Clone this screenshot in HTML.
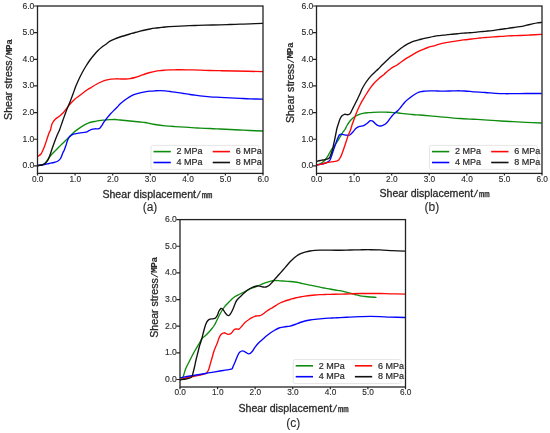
<!DOCTYPE html>
<html><head><meta charset="utf-8"><title>Shear stress vs shear displacement</title>
<style>
html,body{margin:0;padding:0;background:#fff;}
body{width:550px;height:433px;overflow:hidden;}
svg{display:block;}
.t{font-family:"Liberation Sans",Arial,sans-serif;}
.cjk{font-family:"WenQuanYi Zen Hei","Noto Sans CJK SC",sans-serif;}
.mono{font-family:"Liberation Mono",monospace;}
</style></head><body>
<svg width="550" height="433" viewBox="0 0 550 433">
<rect width="550" height="433" fill="#fff"/>
<g transform="translate(37.50,6.00)">
<g fill="none" stroke-width="1.35" stroke-linejoin="round" stroke-linecap="round">
<path d="M0.50,159.50 C1.17,159.42 3.33,159.38 4.50,159.00 C5.67,158.62 6.42,158.28 7.50,157.20 C8.58,156.12 9.83,154.03 11.00,152.50 C12.17,150.97 13.08,149.58 14.50,148.00 C15.92,146.42 17.83,144.67 19.50,143.00 C21.17,141.33 22.83,139.62 24.50,138.00 C26.17,136.38 28.17,134.60 29.50,133.30 C30.83,132.00 31.40,131.33 32.50,130.20 C33.60,129.07 34.88,127.60 36.10,126.50 C37.32,125.40 38.58,124.50 39.80,123.60 C41.02,122.70 42.20,121.88 43.40,121.10 C44.60,120.32 45.78,119.57 47.00,118.90 C48.22,118.23 49.48,117.58 50.70,117.10 C51.92,116.62 53.08,116.30 54.30,116.00 C55.52,115.70 56.78,115.52 58.00,115.30 C59.22,115.08 60.40,114.88 61.60,114.70 C62.80,114.52 63.98,114.35 65.20,114.20 C66.42,114.05 67.68,113.90 68.90,113.80 C70.12,113.70 71.07,113.65 72.50,113.60 C73.93,113.55 75.83,113.43 77.50,113.50 C79.17,113.57 80.83,113.83 82.50,114.00 C84.17,114.17 85.83,114.33 87.50,114.50 C89.17,114.67 90.83,114.83 92.50,115.00 C94.17,115.17 95.83,115.33 97.50,115.50 C99.17,115.67 100.83,115.83 102.50,116.00 C104.17,116.17 105.83,116.25 107.50,116.50 C109.17,116.75 110.83,117.17 112.50,117.50 C114.17,117.83 115.00,118.12 117.50,118.50 C120.00,118.88 124.17,119.45 127.50,119.80 C130.83,120.15 134.17,120.37 137.50,120.60 C140.83,120.83 144.17,121.00 147.50,121.20 C150.83,121.40 155.00,121.63 157.50,121.80 C160.00,121.97 160.00,122.08 162.50,122.20 C165.00,122.32 169.17,122.37 172.50,122.50 C175.83,122.63 179.17,122.83 182.50,123.00 C185.83,123.17 189.17,123.33 192.50,123.50 C195.83,123.67 199.17,123.83 202.50,124.00 C205.83,124.17 208.75,124.33 212.50,124.50 C216.25,124.67 222.92,124.92 225.00,125.00" stroke="#0e8c0e"/>
<path d="M0.50,159.50 C1.50,159.33 4.67,158.83 6.50,158.50 C8.33,158.17 9.83,157.83 11.50,157.50 C13.17,157.17 15.00,156.92 16.50,156.50 C18.00,156.08 19.42,155.67 20.50,155.00 C21.58,154.33 22.20,153.83 23.00,152.50 C23.80,151.17 24.67,148.42 25.30,147.00 C25.93,145.58 26.30,145.20 26.80,144.00 C27.30,142.80 27.77,141.37 28.30,139.80 C28.83,138.23 29.43,136.05 30.00,134.60 C30.57,133.15 31.03,132.02 31.70,131.10 C32.37,130.18 33.13,129.63 34.00,129.10 C34.87,128.57 35.93,128.18 36.90,127.90 C37.87,127.62 38.83,127.58 39.80,127.40 C40.77,127.22 41.25,127.00 42.70,126.80 C44.15,126.60 47.05,126.55 48.50,126.20 C49.95,125.85 50.43,125.18 51.40,124.70 C52.37,124.22 53.33,123.62 54.30,123.30 C55.27,122.98 56.23,122.87 57.20,122.80 C58.17,122.73 59.25,123.00 60.10,122.90 C60.95,122.80 61.57,122.80 62.30,122.20 C63.03,121.60 63.77,120.40 64.50,119.30 C65.23,118.20 65.88,116.78 66.70,115.60 C67.52,114.42 68.37,113.47 69.40,112.20 C70.43,110.93 71.73,109.30 72.90,108.00 C74.07,106.70 75.25,105.57 76.40,104.40 C77.55,103.23 78.78,102.05 79.80,101.00 C80.82,99.95 81.28,99.22 82.50,98.10 C83.72,96.98 85.57,95.47 87.10,94.30 C88.63,93.13 90.15,92.03 91.70,91.10 C93.25,90.17 94.60,89.40 96.40,88.70 C98.20,88.00 100.65,87.37 102.50,86.90 C104.35,86.43 105.83,86.18 107.50,85.90 C109.17,85.62 110.83,85.38 112.50,85.20 C114.17,85.02 115.83,84.90 117.50,84.80 C119.17,84.70 120.83,84.58 122.50,84.60 C124.17,84.62 125.83,84.75 127.50,84.90 C129.17,85.05 130.83,85.28 132.50,85.50 C134.17,85.72 135.83,85.97 137.50,86.20 C139.17,86.43 140.83,86.65 142.50,86.90 C144.17,87.15 145.83,87.43 147.50,87.70 C149.17,87.97 150.83,88.25 152.50,88.50 C154.17,88.75 155.83,88.97 157.50,89.20 C159.17,89.43 160.00,89.63 162.50,89.90 C165.00,90.17 169.17,90.57 172.50,90.80 C175.83,91.03 179.17,91.13 182.50,91.30 C185.83,91.47 189.17,91.63 192.50,91.80 C195.83,91.97 199.17,92.13 202.50,92.30 C205.83,92.47 208.75,92.65 212.50,92.80 C216.25,92.95 222.92,93.13 225.00,93.20" stroke="#0505ff"/>
<path d="M0.30,150.50 C0.83,150.08 2.63,149.08 3.50,148.00 C4.37,146.92 4.83,145.50 5.50,144.00 C6.17,142.50 6.83,140.83 7.50,139.00 C8.17,137.17 8.83,135.00 9.50,133.00 C10.17,131.00 10.92,128.50 11.50,127.00 C12.08,125.50 12.50,125.50 13.00,124.00 C13.50,122.50 13.75,119.75 14.50,118.00 C15.25,116.25 16.33,114.75 17.50,113.50 C18.67,112.25 20.17,111.58 21.50,110.50 C22.83,109.42 24.17,108.42 25.50,107.00 C26.83,105.58 28.17,103.67 29.50,102.00 C30.83,100.33 32.17,98.50 33.50,97.00 C34.83,95.50 36.17,94.17 37.50,93.00 C38.83,91.83 40.17,91.00 41.50,90.00 C42.83,89.00 44.17,88.00 45.50,87.00 C46.83,86.00 48.00,85.00 49.50,84.00 C51.00,83.00 53.00,81.92 54.50,81.00 C56.00,80.08 57.00,79.33 58.50,78.50 C60.00,77.67 61.83,76.72 63.50,76.00 C65.17,75.28 66.83,74.67 68.50,74.20 C70.17,73.73 71.83,73.43 73.50,73.20 C75.17,72.97 76.83,72.83 78.50,72.80 C80.17,72.77 81.83,72.97 83.50,73.00 C85.17,73.03 87.00,73.07 88.50,73.00 C90.00,72.93 91.00,72.85 92.50,72.60 C94.00,72.35 95.83,71.95 97.50,71.50 C99.17,71.05 100.83,70.48 102.50,69.90 C104.17,69.32 105.83,68.57 107.50,68.00 C109.17,67.43 110.83,66.95 112.50,66.50 C114.17,66.05 115.83,65.62 117.50,65.30 C119.17,64.98 120.83,64.78 122.50,64.60 C124.17,64.42 125.83,64.32 127.50,64.20 C129.17,64.08 130.83,63.97 132.50,63.90 C134.17,63.83 135.83,63.82 137.50,63.80 C139.17,63.77 140.00,63.73 142.50,63.75 C145.00,63.77 149.17,63.84 152.50,63.90 C155.83,63.96 159.17,64.00 162.50,64.10 C165.83,64.20 169.17,64.40 172.50,64.50 C175.83,64.60 178.33,64.62 182.50,64.70 C186.67,64.78 190.42,64.85 197.50,65.00 C204.58,65.15 220.42,65.50 225.00,65.60" stroke="#ff0808"/>
<path d="M0.00,159.60 C0.75,159.50 3.25,159.35 4.50,159.00 C5.75,158.65 6.50,158.33 7.50,157.50 C8.50,156.67 9.67,155.42 10.50,154.00 C11.33,152.58 11.83,150.83 12.50,149.00 C13.17,147.17 13.75,145.17 14.50,143.00 C15.25,140.83 16.17,138.25 17.00,136.00 C17.83,133.75 18.67,131.50 19.50,129.50 C20.33,127.50 21.00,126.58 22.00,124.00 C23.00,121.42 24.25,117.50 25.50,114.00 C26.75,110.50 28.33,106.00 29.50,103.00 C30.67,100.00 31.50,98.50 32.50,96.00 C33.50,93.50 34.50,90.70 35.50,88.00 C36.50,85.30 37.50,82.30 38.50,79.80 C39.50,77.30 40.50,75.13 41.50,73.00 C42.50,70.87 43.33,69.17 44.50,67.00 C45.67,64.83 47.17,62.17 48.50,60.00 C49.83,57.83 51.17,55.83 52.50,54.00 C53.83,52.17 55.17,50.58 56.50,49.00 C57.83,47.42 59.17,45.83 60.50,44.50 C61.83,43.17 63.25,42.00 64.50,41.00 C65.75,40.00 66.67,39.47 68.00,38.50 C69.33,37.53 70.92,36.15 72.50,35.20 C74.08,34.25 75.83,33.50 77.50,32.80 C79.17,32.10 80.83,31.55 82.50,31.00 C84.17,30.45 85.83,30.00 87.50,29.50 C89.17,29.00 90.83,28.50 92.50,28.00 C94.17,27.50 95.83,26.97 97.50,26.50 C99.17,26.03 100.83,25.62 102.50,25.20 C104.17,24.78 105.83,24.37 107.50,24.00 C109.17,23.63 110.83,23.30 112.50,23.00 C114.17,22.70 115.83,22.43 117.50,22.20 C119.17,21.97 120.83,21.80 122.50,21.60 C124.17,21.40 125.00,21.22 127.50,21.00 C130.00,20.78 134.17,20.50 137.50,20.30 C140.83,20.10 144.17,19.93 147.50,19.80 C150.83,19.67 154.17,19.60 157.50,19.50 C160.83,19.40 163.33,19.32 167.50,19.20 C171.67,19.08 178.33,18.92 182.50,18.80 C186.67,18.68 189.17,18.60 192.50,18.50 C195.83,18.40 199.17,18.32 202.50,18.20 C205.83,18.08 208.75,17.95 212.50,17.80 C216.25,17.65 222.92,17.38 225.00,17.30" stroke="#111"/>
</g>
<rect x="0" y="0" width="225.50" height="167.40" fill="none" stroke="#222" stroke-width="1.3"/>
<path d="M-3.6,159.90H0M-3.6,133.25H0M-3.6,106.60H0M-3.6,79.95H0M-3.6,53.30H0M-3.6,26.65H0M-3.6,0.00H0M0.00,167.40V169.60M37.58,167.40V169.60M75.16,167.40V169.60M112.74,167.40V169.60M150.32,167.40V169.60M187.90,167.40V169.60M225.48,167.40V169.60" stroke="#222" stroke-width="1.2" fill="none"/>
<g class="t" font-size="8.30" fill="#2a2a2a" stroke="#2a2a2a" stroke-width="0.12">
<text x="-3.1" y="162.40" text-anchor="end" font-size="8.6">0.0</text>
<text x="-3.1" y="135.75" text-anchor="end" font-size="8.6">1.0</text>
<text x="-3.1" y="109.10" text-anchor="end" font-size="8.6">2.0</text>
<text x="-3.1" y="82.45" text-anchor="end" font-size="8.6">3.0</text>
<text x="-3.1" y="55.80" text-anchor="end" font-size="8.6">4.0</text>
<text x="-3.1" y="29.15" text-anchor="end" font-size="8.6">5.0</text>
<text x="-3.1" y="2.50" text-anchor="end" font-size="8.6">6.0</text>
<text x="0.20" y="175.80" text-anchor="middle">0.0</text>
<text x="37.78" y="175.80" text-anchor="middle">1.0</text>
<text x="75.36" y="175.80" text-anchor="middle">2.0</text>
<text x="112.94" y="175.80" text-anchor="middle">3.0</text>
<text x="150.52" y="175.80" text-anchor="middle">4.0</text>
<text x="188.10" y="175.80" text-anchor="middle">5.0</text>
<text x="225.68" y="175.80" text-anchor="middle">6.0</text>
</g>
</g>
<text class="t" x="102.40" y="198.30" font-size="10.6" fill="#2a2a2a" stroke="#2a2a2a" stroke-width="0.3">Shear displacement<tspan class="mono" font-size="8.75">/</tspan><tspan class="cjk" font-size="11.6">㎜</tspan></text>
<text class="t" transform="translate(12.10,119.90) rotate(-90)" font-size="10.6" fill="#2a2a2a" stroke="#2a2a2a" stroke-width="0.3">Shear stress<tspan class="mono" font-size="9.4" font-weight="bold" letter-spacing="-0.4" stroke-width="0.05">/</tspan><tspan class="mono" font-size="9.4" font-weight="bold" letter-spacing="-0.4" stroke-width="0.1" dy="-0.6">MPa</tspan></text>
<text class="t" x="150.00" y="210.90" font-size="12" fill="#2a2a2a" text-anchor="middle" stroke="#2a2a2a" stroke-width="0.1">(a)</text>
<rect x="151.00" y="145.40" width="108" height="24" rx="1.8" fill="#fff" stroke="#e2e2e2" stroke-width="0.9"/>
<path d="M153.50,151.60h17.3" stroke="#0e8c0e" stroke-width="1.6"/>
<text class="t" x="176.50" y="154.40" font-size="9" fill="#2a2a2a" stroke="#2a2a2a" stroke-width="0.2">2 MPa</text>
<path d="M212.70,151.60h17.3" stroke="#ff0808" stroke-width="1.6"/>
<text class="t" x="235.70" y="154.40" font-size="9" fill="#2a2a2a" stroke="#2a2a2a" stroke-width="0.2">6 MPa</text>
<path d="M153.50,162.50h17.3" stroke="#0505ff" stroke-width="1.6"/>
<text class="t" x="176.50" y="164.90" font-size="9" fill="#2a2a2a" stroke="#2a2a2a" stroke-width="0.2">4 MPa</text>
<path d="M212.70,162.50h17.3" stroke="#111" stroke-width="1.6"/>
<text class="t" x="235.70" y="164.90" font-size="9" fill="#2a2a2a" stroke="#2a2a2a" stroke-width="0.2">8 MPa</text>
<g transform="translate(316.50,6.00)">
<g fill="none" stroke-width="1.35" stroke-linejoin="round" stroke-linecap="round">
<path d="M0.40,159.00 C0.67,158.90 1.27,158.68 2.00,158.40 C2.73,158.12 3.88,157.85 4.80,157.30 C5.72,156.75 6.68,155.92 7.50,155.10 C8.32,154.28 8.97,153.40 9.70,152.40 C10.43,151.40 11.18,150.28 11.90,149.10 C12.62,147.92 13.37,146.40 14.00,145.30 C14.63,144.20 15.12,143.30 15.70,142.50 C16.28,141.70 16.70,141.58 17.50,140.50 C18.30,139.42 19.50,137.58 20.50,136.00 C21.50,134.42 22.50,132.67 23.50,131.00 C24.50,129.33 25.67,127.25 26.50,126.00 C27.33,124.75 27.83,124.58 28.50,123.50 C29.17,122.42 29.67,120.92 30.50,119.50 C31.33,118.08 32.50,116.25 33.50,115.00 C34.50,113.75 35.50,112.83 36.50,112.00 C37.50,111.17 38.33,110.63 39.50,110.00 C40.67,109.37 42.17,108.67 43.50,108.20 C44.83,107.73 46.17,107.45 47.50,107.20 C48.83,106.95 50.05,106.85 51.50,106.70 C52.95,106.55 54.32,106.40 56.20,106.30 C58.08,106.20 60.58,106.12 62.80,106.10 C65.02,106.08 67.55,106.17 69.50,106.20 C71.45,106.23 72.83,106.22 74.50,106.30 C76.17,106.38 77.83,106.53 79.50,106.70 C81.17,106.87 82.83,107.12 84.50,107.30 C86.17,107.48 87.83,107.63 89.50,107.80 C91.17,107.97 92.83,108.13 94.50,108.30 C96.17,108.47 98.00,108.68 99.50,108.80 C101.00,108.92 101.17,108.83 103.50,109.00 C105.83,109.17 110.17,109.50 113.50,109.80 C116.83,110.10 120.17,110.48 123.50,110.80 C126.83,111.12 130.17,111.42 133.50,111.70 C136.83,111.98 140.17,112.27 143.50,112.50 C146.83,112.73 150.67,112.95 153.50,113.10 C156.33,113.25 157.55,113.23 160.50,113.40 C163.45,113.57 167.28,113.83 171.20,114.10 C175.12,114.37 179.75,114.73 184.00,115.00 C188.25,115.27 192.47,115.47 196.70,115.70 C200.93,115.93 204.73,116.18 209.40,116.40 C214.07,116.62 222.15,116.90 224.70,117.00" stroke="#0e8c0e"/>
<path d="M0.40,158.90 C0.95,158.82 2.25,158.72 3.70,158.40 C5.15,158.08 7.73,157.47 9.10,157.00 C10.47,156.53 11.17,156.10 11.90,155.60 C12.63,155.10 13.05,154.72 13.50,154.00 C13.95,153.28 14.23,152.30 14.60,151.30 C14.97,150.30 15.35,149.05 15.70,148.00 C16.05,146.95 16.33,146.08 16.70,145.00 C17.07,143.92 17.50,142.67 17.90,141.50 C18.30,140.33 18.67,139.25 19.10,138.00 C19.53,136.75 19.93,135.42 20.50,134.00 C21.07,132.58 21.83,130.47 22.50,129.50 C23.17,128.53 23.78,128.35 24.50,128.20 C25.22,128.05 25.88,128.43 26.80,128.60 C27.72,128.77 28.92,129.13 30.00,129.20 C31.08,129.27 32.20,129.58 33.30,129.00 C34.40,128.42 35.50,126.87 36.60,125.70 C37.70,124.53 38.82,122.88 39.90,122.00 C40.98,121.12 41.88,120.80 43.10,120.40 C44.32,120.00 45.97,120.08 47.20,119.60 C48.43,119.12 49.40,118.32 50.50,117.50 C51.60,116.68 52.85,115.10 53.80,114.70 C54.75,114.30 55.38,114.63 56.20,115.10 C57.02,115.57 57.88,116.78 58.70,117.50 C59.52,118.22 60.22,118.98 61.10,119.40 C61.98,119.82 63.02,120.07 64.00,120.00 C64.98,119.93 66.08,119.42 67.00,119.00 C67.92,118.58 68.58,118.33 69.50,117.50 C70.42,116.67 71.50,115.25 72.50,114.00 C73.50,112.75 74.50,111.17 75.50,110.00 C76.50,108.83 77.50,107.92 78.50,107.00 C79.50,106.08 80.50,105.50 81.50,104.50 C82.50,103.50 83.33,102.42 84.50,101.00 C85.67,99.58 87.17,97.42 88.50,96.00 C89.83,94.58 91.17,93.58 92.50,92.50 C93.83,91.42 95.17,90.42 96.50,89.50 C97.83,88.58 99.17,87.65 100.50,87.00 C101.83,86.35 103.17,85.90 104.50,85.60 C105.83,85.30 107.00,85.31 108.50,85.20 C110.00,85.09 111.83,84.99 113.50,84.95 C115.17,84.91 116.83,84.93 118.50,84.95 C120.17,84.97 121.83,85.03 123.50,85.05 C125.17,85.07 126.83,85.11 128.50,85.10 C130.17,85.09 131.83,85.04 133.50,85.00 C135.17,84.96 136.83,84.88 138.50,84.85 C140.17,84.82 141.83,84.77 143.50,84.80 C145.17,84.83 146.83,84.90 148.50,85.00 C150.17,85.10 151.83,85.25 153.50,85.40 C155.17,85.55 155.97,85.72 158.50,85.90 C161.03,86.08 165.30,86.25 168.70,86.50 C172.10,86.75 175.52,87.20 178.90,87.40 C182.28,87.60 185.62,87.67 189.00,87.70 C192.38,87.73 195.80,87.63 199.20,87.60 C202.60,87.57 205.15,87.52 209.40,87.50 C213.65,87.48 222.15,87.50 224.70,87.50" stroke="#0505ff"/>
<path d="M0.40,158.90 C0.95,158.82 2.25,158.72 3.70,158.40 C5.15,158.08 7.28,157.42 9.10,157.00 C10.92,156.58 12.78,156.22 14.60,155.90 C16.42,155.58 18.73,155.42 20.00,155.10 C21.27,154.78 21.55,154.63 22.20,154.00 C22.85,153.37 23.40,152.22 23.90,151.30 C24.40,150.38 24.60,150.05 25.20,148.50 C25.80,146.95 26.78,144.08 27.50,142.00 C28.22,139.92 28.83,138.00 29.50,136.00 C30.17,134.00 30.75,132.00 31.50,130.00 C32.25,128.00 33.33,125.83 34.00,124.00 C34.67,122.17 34.92,120.75 35.50,119.00 C36.08,117.25 36.83,115.33 37.50,113.50 C38.17,111.67 38.83,109.72 39.50,108.00 C40.17,106.28 40.83,104.70 41.50,103.20 C42.17,101.70 42.83,100.33 43.50,99.00 C44.17,97.67 44.83,96.40 45.50,95.20 C46.17,94.00 46.67,93.17 47.50,91.80 C48.33,90.43 49.50,88.57 50.50,87.00 C51.50,85.43 52.33,84.03 53.50,82.40 C54.67,80.77 56.00,78.87 57.50,77.20 C59.00,75.53 60.83,73.87 62.50,72.40 C64.17,70.93 65.83,69.80 67.50,68.40 C69.17,67.00 71.13,65.13 72.50,64.00 C73.87,62.87 74.40,62.40 75.70,61.60 C77.00,60.80 78.85,60.10 80.30,59.20 C81.75,58.30 82.95,57.25 84.40,56.20 C85.85,55.15 87.45,53.90 89.00,52.90 C90.55,51.90 92.28,51.03 93.70,50.20 C95.12,49.37 96.10,48.70 97.50,47.90 C98.90,47.10 100.57,46.17 102.10,45.40 C103.63,44.63 105.15,43.95 106.70,43.30 C108.25,42.65 109.60,42.08 111.40,41.50 C113.20,40.92 115.72,40.32 117.50,39.80 C119.28,39.28 120.57,38.83 122.10,38.40 C123.63,37.97 125.15,37.55 126.70,37.20 C128.25,36.85 129.60,36.62 131.40,36.30 C133.20,35.98 135.72,35.58 137.50,35.30 C139.28,35.02 140.57,34.83 142.10,34.60 C143.63,34.37 145.15,34.08 146.70,33.90 C148.25,33.72 149.60,33.70 151.40,33.50 C153.20,33.30 155.72,32.92 157.50,32.70 C159.28,32.48 160.57,32.37 162.10,32.20 C163.63,32.03 165.15,31.83 166.70,31.70 C168.25,31.57 169.60,31.53 171.40,31.40 C173.20,31.27 175.72,31.05 177.50,30.90 C179.28,30.75 180.57,30.60 182.10,30.50 C183.63,30.40 185.15,30.40 186.70,30.30 C188.25,30.20 189.60,30.00 191.40,29.90 C193.20,29.80 195.48,29.77 197.50,29.70 C199.52,29.63 200.83,29.62 203.50,29.50 C206.17,29.38 209.92,29.20 213.50,29.00 C217.08,28.80 223.08,28.42 225.00,28.30" stroke="#ff0808"/>
<path d="M0.40,155.40 C0.95,155.25 2.70,154.73 3.70,154.50 C4.70,154.27 5.50,154.17 6.40,154.00 C7.30,153.83 8.28,153.68 9.10,153.50 C9.92,153.32 10.65,153.18 11.30,152.90 C11.95,152.62 12.55,152.35 13.00,151.80 C13.45,151.25 13.65,150.50 14.00,149.60 C14.35,148.70 14.73,147.48 15.10,146.40 C15.47,145.32 15.88,144.33 16.20,143.10 C16.52,141.87 16.62,140.85 17.00,139.00 C17.38,137.15 18.08,134.00 18.50,132.00 C18.92,130.00 19.20,128.50 19.50,127.00 C19.80,125.50 19.97,124.33 20.30,123.00 C20.63,121.67 20.97,120.67 21.50,119.00 C22.03,117.33 22.83,114.53 23.50,113.00 C24.17,111.47 24.75,110.58 25.50,109.80 C26.25,109.02 27.25,108.50 28.00,108.30 C28.75,108.10 29.38,108.53 30.00,108.60 C30.62,108.67 31.07,108.92 31.70,108.70 C32.33,108.48 33.17,108.08 33.80,107.30 C34.43,106.52 34.88,105.22 35.50,104.00 C36.12,102.78 36.83,101.33 37.50,100.00 C38.17,98.67 38.83,97.33 39.50,96.00 C40.17,94.67 40.83,93.37 41.50,92.00 C42.17,90.63 42.83,89.30 43.50,87.80 C44.17,86.30 44.63,84.72 45.50,83.00 C46.37,81.28 47.62,79.18 48.70,77.50 C49.78,75.82 50.92,74.30 52.00,72.90 C53.08,71.50 54.12,70.25 55.20,69.10 C56.28,67.95 57.37,67.05 58.50,66.00 C59.63,64.95 60.83,63.97 62.00,62.80 C63.17,61.63 64.30,60.23 65.50,59.00 C66.70,57.77 68.05,56.48 69.20,55.40 C70.35,54.32 71.32,53.47 72.40,52.50 C73.48,51.53 74.62,50.52 75.70,49.60 C76.78,48.68 77.83,47.90 78.90,47.00 C79.97,46.10 80.80,45.25 82.10,44.20 C83.40,43.15 85.38,41.63 86.70,40.70 C88.02,39.77 88.87,39.25 90.00,38.60 C91.13,37.95 92.25,37.37 93.50,36.80 C94.75,36.23 96.07,35.70 97.50,35.20 C98.93,34.70 100.57,34.22 102.10,33.80 C103.63,33.38 105.13,33.07 106.70,32.70 C108.27,32.33 109.70,32.00 111.50,31.60 C113.30,31.20 115.73,30.63 117.50,30.30 C119.27,29.97 120.57,29.78 122.10,29.60 C123.63,29.42 125.15,29.35 126.70,29.20 C128.25,29.05 129.60,28.90 131.40,28.70 C133.20,28.50 135.72,28.18 137.50,28.00 C139.28,27.82 140.57,27.73 142.10,27.60 C143.63,27.47 145.15,27.32 146.70,27.20 C148.25,27.08 149.60,27.02 151.40,26.90 C153.20,26.77 155.72,26.62 157.50,26.45 C159.28,26.28 160.57,26.06 162.10,25.90 C163.63,25.74 165.15,25.65 166.70,25.50 C168.25,25.35 169.60,25.18 171.40,25.00 C173.20,24.82 175.72,24.62 177.50,24.40 C179.28,24.18 180.57,23.93 182.10,23.70 C183.63,23.47 185.15,23.23 186.70,23.00 C188.25,22.77 189.60,22.55 191.40,22.30 C193.20,22.05 195.48,21.78 197.50,21.50 C199.52,21.22 201.53,20.95 203.50,20.60 C205.47,20.25 207.38,19.82 209.30,19.40 C211.22,18.98 213.08,18.52 215.00,18.10 C216.92,17.68 219.13,17.18 220.80,16.90 C222.47,16.62 224.30,16.48 225.00,16.40" stroke="#111"/>
</g>
<rect x="0" y="0" width="225.50" height="167.40" fill="none" stroke="#222" stroke-width="1.3"/>
<path d="M-3.6,159.90H0M-3.6,133.25H0M-3.6,106.60H0M-3.6,79.95H0M-3.6,53.30H0M-3.6,26.65H0M-3.6,0.00H0M0.00,167.40V169.60M37.58,167.40V169.60M75.16,167.40V169.60M112.74,167.40V169.60M150.32,167.40V169.60M187.90,167.40V169.60M225.48,167.40V169.60" stroke="#222" stroke-width="1.2" fill="none"/>
<g class="t" font-size="8.30" fill="#2a2a2a" stroke="#2a2a2a" stroke-width="0.12">
<text x="-3.1" y="162.40" text-anchor="end" font-size="8.6">0.0</text>
<text x="-3.1" y="135.75" text-anchor="end" font-size="8.6">1.0</text>
<text x="-3.1" y="109.10" text-anchor="end" font-size="8.6">2.0</text>
<text x="-3.1" y="82.45" text-anchor="end" font-size="8.6">3.0</text>
<text x="-3.1" y="55.80" text-anchor="end" font-size="8.6">4.0</text>
<text x="-3.1" y="29.15" text-anchor="end" font-size="8.6">5.0</text>
<text x="-3.1" y="2.50" text-anchor="end" font-size="8.6">6.0</text>
<text x="0.20" y="175.80" text-anchor="middle">0.0</text>
<text x="37.78" y="175.80" text-anchor="middle">1.0</text>
<text x="75.36" y="175.80" text-anchor="middle">2.0</text>
<text x="112.94" y="175.80" text-anchor="middle">3.0</text>
<text x="150.52" y="175.80" text-anchor="middle">4.0</text>
<text x="188.10" y="175.80" text-anchor="middle">5.0</text>
<text x="225.68" y="175.80" text-anchor="middle">6.0</text>
</g>
</g>
<text class="t" x="379.50" y="197.40" font-size="10.6" fill="#2a2a2a" stroke="#2a2a2a" stroke-width="0.3">Shear displacement<tspan class="mono" font-size="8.75">/</tspan><tspan class="cjk" font-size="11.6">㎜</tspan></text>
<text class="t" transform="translate(293.50,123.10) rotate(-90)" font-size="10.6" fill="#2a2a2a" stroke="#2a2a2a" stroke-width="0.3">Shear stress<tspan class="mono" font-size="9.4" font-weight="bold" letter-spacing="-0.4" stroke-width="0.05">/</tspan><tspan class="mono" font-size="9.4" font-weight="bold" letter-spacing="-0.4" stroke-width="0.1" dy="-0.6">MPa</tspan></text>
<text class="t" x="431.90" y="210.60" font-size="12" fill="#2a2a2a" text-anchor="middle" stroke="#2a2a2a" stroke-width="0.1">(b)</text>
<rect x="429.50" y="145.40" width="108" height="24" rx="1.8" fill="#fff" stroke="#e2e2e2" stroke-width="0.9"/>
<path d="M432.00,151.60h17.3" stroke="#0e8c0e" stroke-width="1.6"/>
<text class="t" x="455.00" y="154.40" font-size="9" fill="#2a2a2a" stroke="#2a2a2a" stroke-width="0.2">2 MPa</text>
<path d="M491.20,151.60h17.3" stroke="#ff0808" stroke-width="1.6"/>
<text class="t" x="514.20" y="154.40" font-size="9" fill="#2a2a2a" stroke="#2a2a2a" stroke-width="0.2">6 MPa</text>
<path d="M432.00,162.50h17.3" stroke="#0505ff" stroke-width="1.6"/>
<text class="t" x="455.00" y="164.90" font-size="9" fill="#2a2a2a" stroke="#2a2a2a" stroke-width="0.2">4 MPa</text>
<path d="M491.20,162.50h17.3" stroke="#111" stroke-width="1.6"/>
<text class="t" x="514.20" y="164.90" font-size="9" fill="#2a2a2a" stroke="#2a2a2a" stroke-width="0.2">8 MPa</text>
<g transform="translate(180.00,219.60)">
<g fill="none" stroke-width="1.35" stroke-linejoin="round" stroke-linecap="round">
<path d="M0.50,160.40 C0.92,159.90 2.42,158.40 3.00,157.40 C3.58,156.40 3.50,155.90 4.00,154.40 C4.50,152.90 5.17,150.40 6.00,148.40 C6.83,146.40 8.00,144.40 9.00,142.40 C10.00,140.40 11.00,138.32 12.00,136.40 C13.00,134.48 14.00,132.65 15.00,130.90 C16.00,129.15 17.25,127.15 18.00,125.90 C18.75,124.65 18.83,124.57 19.50,123.40 C20.17,122.23 21.08,120.07 22.00,118.90 C22.92,117.73 23.83,117.48 25.00,116.40 C26.17,115.32 27.83,113.65 29.00,112.40 C30.17,111.15 31.08,110.07 32.00,108.90 C32.92,107.73 33.67,106.82 34.50,105.40 C35.33,103.98 36.08,102.23 37.00,100.40 C37.92,98.57 39.00,96.23 40.00,94.40 C41.00,92.57 42.00,90.90 43.00,89.40 C44.00,87.90 45.00,86.57 46.00,85.40 C47.00,84.23 48.08,83.32 49.00,82.40 C49.92,81.48 50.50,80.82 51.50,79.90 C52.50,78.98 53.58,77.82 55.00,76.90 C56.42,75.98 58.33,75.23 60.00,74.40 C61.67,73.57 63.33,72.73 65.00,71.90 C66.67,71.07 68.33,70.15 70.00,69.40 C71.67,68.65 73.33,68.07 75.00,67.40 C76.67,66.73 78.33,66.10 80.00,65.40 C81.67,64.70 83.33,63.82 85.00,63.20 C86.67,62.58 88.33,62.08 90.00,61.70 C91.67,61.32 93.33,60.98 95.00,60.90 C96.67,60.82 98.33,61.08 100.00,61.20 C101.67,61.32 103.33,61.48 105.00,61.60 C106.67,61.72 108.33,61.77 110.00,61.90 C111.67,62.03 113.33,62.15 115.00,62.40 C116.67,62.65 118.33,63.03 120.00,63.40 C121.67,63.77 123.33,64.23 125.00,64.60 C126.67,64.97 128.33,65.27 130.00,65.60 C131.67,65.93 133.33,66.27 135.00,66.60 C136.67,66.93 138.33,67.27 140.00,67.60 C141.67,67.93 143.33,68.30 145.00,68.60 C146.67,68.90 148.33,69.10 150.00,69.40 C151.67,69.70 153.33,70.12 155.00,70.40 C156.67,70.68 158.33,70.80 160.00,71.10 C161.67,71.40 163.33,71.78 165.00,72.20 C166.67,72.62 168.33,73.15 170.00,73.60 C171.67,74.05 173.33,74.47 175.00,74.90 C176.67,75.33 178.33,75.87 180.00,76.20 C181.67,76.53 183.33,76.70 185.00,76.90 C186.67,77.10 188.17,77.27 190.00,77.40 C191.83,77.53 195.00,77.65 196.00,77.70" stroke="#0e8c0e"/>
<path d="M0.50,159.90 C1.75,159.57 5.58,158.48 8.00,157.90 C10.42,157.32 12.67,156.90 15.00,156.40 C17.33,155.90 20.08,155.40 22.00,154.90 C23.92,154.40 25.42,154.15 26.50,153.40 C27.58,152.65 27.92,151.73 28.50,150.40 C29.08,149.07 29.42,147.40 30.00,145.40 C30.58,143.40 31.33,140.73 32.00,138.40 C32.67,136.07 33.33,133.40 34.00,131.40 C34.67,129.40 35.42,127.82 36.00,126.40 C36.58,124.98 37.00,124.23 37.50,122.90 C38.00,121.57 38.42,119.73 39.00,118.40 C39.58,117.07 40.17,115.77 41.00,114.90 C41.83,114.03 43.00,113.28 44.00,113.20 C45.00,113.12 46.17,114.15 47.00,114.40 C47.83,114.65 48.25,114.87 49.00,114.70 C49.75,114.53 50.75,114.03 51.50,113.40 C52.25,112.77 52.92,111.53 53.50,110.90 C54.08,110.27 54.42,109.85 55.00,109.60 C55.58,109.35 56.33,109.42 57.00,109.40 C57.67,109.38 58.17,110.00 59.00,109.50 C59.83,109.00 61.00,107.50 62.00,106.40 C63.00,105.30 63.83,103.98 65.00,102.90 C66.17,101.82 67.67,100.78 69.00,99.90 C70.33,99.02 71.83,98.18 73.00,97.60 C74.17,97.02 74.83,96.65 76.00,96.40 C77.17,96.15 78.83,96.43 80.00,96.10 C81.17,95.77 81.83,95.18 83.00,94.40 C84.17,93.62 85.67,92.32 87.00,91.40 C88.33,90.48 89.67,89.72 91.00,88.90 C92.33,88.08 93.50,87.42 95.00,86.50 C96.50,85.58 98.33,84.25 100.00,83.40 C101.67,82.55 103.33,81.98 105.00,81.40 C106.67,80.82 108.33,80.40 110.00,79.90 C111.67,79.40 113.33,78.82 115.00,78.40 C116.67,77.98 118.33,77.70 120.00,77.40 C121.67,77.10 123.33,76.85 125.00,76.60 C126.67,76.35 128.33,76.10 130.00,75.90 C131.67,75.70 133.33,75.53 135.00,75.40 C136.67,75.27 138.33,75.18 140.00,75.10 C141.67,75.02 143.33,74.97 145.00,74.90 C146.67,74.83 147.50,74.75 150.00,74.70 C152.50,74.65 156.67,74.68 160.00,74.60 C163.33,74.52 166.67,74.32 170.00,74.20 C173.33,74.08 176.67,73.95 180.00,73.90 C183.33,73.85 186.67,73.90 190.00,73.90 C193.33,73.90 196.67,73.85 200.00,73.90 C203.33,73.95 205.83,74.10 210.00,74.20 C214.17,74.30 222.50,74.45 225.00,74.50" stroke="#ff0808"/>
<path d="M0.50,158.10 C2.08,157.82 6.75,156.93 10.00,156.40 C13.25,155.87 16.67,155.45 20.00,154.90 C23.33,154.35 26.67,153.68 30.00,153.10 C33.33,152.52 37.50,151.82 40.00,151.40 C42.50,150.98 43.33,150.88 45.00,150.60 C46.67,150.32 48.83,149.93 50.00,149.70 C51.17,149.47 51.45,149.75 52.00,149.20 C52.55,148.65 52.73,147.67 53.30,146.40 C53.87,145.13 54.70,143.27 55.40,141.60 C56.10,139.93 56.80,137.88 57.50,136.40 C58.20,134.92 58.73,133.57 59.60,132.70 C60.47,131.83 61.67,131.20 62.70,131.20 C63.73,131.20 64.77,132.18 65.80,132.70 C66.83,133.22 67.87,134.38 68.90,134.30 C69.93,134.22 70.97,133.32 72.00,132.20 C73.03,131.08 74.05,129.02 75.10,127.60 C76.15,126.18 77.25,124.83 78.30,123.70 C79.35,122.57 80.62,121.52 81.40,120.80 C82.18,120.08 82.07,120.22 83.00,119.40 C83.93,118.58 85.67,116.98 87.00,115.90 C88.33,114.82 89.67,113.82 91.00,112.90 C92.33,111.98 93.67,111.15 95.00,110.40 C96.33,109.65 97.67,108.87 99.00,108.40 C100.33,107.93 101.67,107.85 103.00,107.60 C104.33,107.35 105.83,107.08 107.00,106.90 C108.17,106.72 108.67,106.83 110.00,106.50 C111.33,106.17 113.33,105.50 115.00,104.90 C116.67,104.30 118.33,103.48 120.00,102.90 C121.67,102.32 123.33,101.82 125.00,101.40 C126.67,100.98 128.33,100.68 130.00,100.40 C131.67,100.12 133.33,99.90 135.00,99.70 C136.67,99.50 138.33,99.35 140.00,99.20 C141.67,99.05 143.33,98.92 145.00,98.80 C146.67,98.68 148.33,98.60 150.00,98.50 C151.67,98.40 153.33,98.28 155.00,98.20 C156.67,98.12 157.50,98.12 160.00,98.00 C162.50,97.88 166.67,97.65 170.00,97.50 C173.33,97.35 176.67,97.22 180.00,97.10 C183.33,96.98 186.67,96.82 190.00,96.80 C193.33,96.78 196.67,96.88 200.00,97.00 C203.33,97.12 205.83,97.35 210.00,97.50 C214.17,97.65 222.50,97.83 225.00,97.90" stroke="#0505ff"/>
<path d="M0.50,160.20 C1.42,160.07 4.42,159.70 6.00,159.40 C7.58,159.10 9.00,158.82 10.00,158.40 C11.00,157.98 11.50,157.73 12.00,156.90 C12.50,156.07 12.58,154.98 13.00,153.40 C13.42,151.82 14.00,149.57 14.50,147.40 C15.00,145.23 15.42,142.90 16.00,140.40 C16.58,137.90 17.42,134.73 18.00,132.40 C18.58,130.07 19.08,127.90 19.50,126.40 C19.92,124.90 20.08,124.73 20.50,123.40 C20.92,122.07 21.50,120.23 22.00,118.40 C22.50,116.57 22.92,114.57 23.50,112.40 C24.08,110.23 24.83,107.23 25.50,105.40 C26.17,103.57 26.75,102.37 27.50,101.40 C28.25,100.43 29.08,99.97 30.00,99.60 C30.92,99.23 32.08,99.40 33.00,99.20 C33.92,99.00 34.75,99.03 35.50,98.40 C36.25,97.77 36.92,96.57 37.50,95.40 C38.08,94.23 38.42,92.48 39.00,91.40 C39.58,90.32 40.33,89.15 41.00,88.90 C41.67,88.65 42.33,89.23 43.00,89.90 C43.67,90.57 44.33,91.98 45.00,92.90 C45.67,93.82 46.33,94.90 47.00,95.40 C47.67,95.90 48.33,96.23 49.00,95.90 C49.67,95.57 50.33,94.48 51.00,93.40 C51.67,92.32 52.33,90.90 53.00,89.40 C53.67,87.90 54.33,85.90 55.00,84.40 C55.67,82.90 55.83,81.90 57.00,80.40 C58.17,78.90 60.33,76.98 62.00,75.40 C63.67,73.82 65.33,72.15 67.00,70.90 C68.67,69.65 70.33,68.65 72.00,67.90 C73.67,67.15 75.67,66.62 77.00,66.40 C78.33,66.18 79.00,66.43 80.00,66.60 C81.00,66.77 82.00,67.27 83.00,67.40 C84.00,67.53 85.00,67.65 86.00,67.40 C87.00,67.15 88.00,66.65 89.00,65.90 C90.00,65.15 91.00,64.00 92.00,62.90 C93.00,61.80 93.83,60.63 95.00,59.30 C96.17,57.97 97.67,56.38 99.00,54.90 C100.33,53.42 101.80,51.77 103.00,50.40 C104.20,49.03 105.13,47.95 106.20,46.70 C107.27,45.45 108.35,44.05 109.40,42.90 C110.45,41.75 111.47,40.75 112.50,39.80 C113.53,38.85 114.57,37.98 115.60,37.20 C116.63,36.42 117.63,35.70 118.70,35.10 C119.77,34.50 120.78,34.08 122.00,33.60 C123.22,33.12 124.67,32.57 126.00,32.20 C127.33,31.83 128.50,31.63 130.00,31.40 C131.50,31.17 133.33,30.95 135.00,30.80 C136.67,30.65 138.33,30.55 140.00,30.50 C141.67,30.45 143.33,30.48 145.00,30.50 C146.67,30.52 147.50,30.58 150.00,30.60 C152.50,30.62 156.67,30.63 160.00,30.60 C163.33,30.57 166.67,30.47 170.00,30.40 C173.33,30.33 176.67,30.25 180.00,30.20 C183.33,30.15 186.67,30.08 190.00,30.10 C193.33,30.12 196.27,30.15 200.00,30.30 C203.73,30.45 208.23,30.78 212.40,31.00 C216.57,31.22 222.90,31.50 225.00,31.60" stroke="#111"/>
</g>
<rect x="0" y="0" width="225.50" height="167.40" fill="none" stroke="#222" stroke-width="1.3"/>
<path d="M-3.6,159.90H0M-3.6,133.25H0M-3.6,106.60H0M-3.6,79.95H0M-3.6,53.30H0M-3.6,26.65H0M-3.6,0.00H0M0.00,167.40V169.60M37.58,167.40V169.60M75.16,167.40V169.60M112.74,167.40V169.60M150.32,167.40V169.60M187.90,167.40V169.60M225.48,167.40V169.60" stroke="#222" stroke-width="1.2" fill="none"/>
<g class="t" font-size="8.30" fill="#2a2a2a" stroke="#2a2a2a" stroke-width="0.12">
<text x="-3.1" y="162.40" text-anchor="end" font-size="8.6">0.0</text>
<text x="-3.1" y="135.75" text-anchor="end" font-size="8.6">1.0</text>
<text x="-3.1" y="109.10" text-anchor="end" font-size="8.6">2.0</text>
<text x="-3.1" y="82.45" text-anchor="end" font-size="8.6">3.0</text>
<text x="-3.1" y="55.80" text-anchor="end" font-size="8.6">4.0</text>
<text x="-3.1" y="29.15" text-anchor="end" font-size="8.6">5.0</text>
<text x="-3.1" y="2.50" text-anchor="end" font-size="8.6">6.0</text>
<text x="0.20" y="175.80" text-anchor="middle">0.0</text>
<text x="37.78" y="175.80" text-anchor="middle">1.0</text>
<text x="75.36" y="175.80" text-anchor="middle">2.0</text>
<text x="112.94" y="175.80" text-anchor="middle">3.0</text>
<text x="150.52" y="175.80" text-anchor="middle">4.0</text>
<text x="188.10" y="175.80" text-anchor="middle">5.0</text>
<text x="225.68" y="175.80" text-anchor="middle">6.0</text>
</g>
</g>
<text class="t" x="238.50" y="412.30" font-size="10.6" fill="#2a2a2a" stroke="#2a2a2a" stroke-width="0.3">Shear displacement<tspan class="mono" font-size="8.75">/</tspan><tspan class="cjk" font-size="11.6">㎜</tspan></text>
<text class="t" transform="translate(157.50,337.70) rotate(-90)" font-size="10.6" fill="#2a2a2a" stroke="#2a2a2a" stroke-width="0.3">Shear stress<tspan class="mono" font-size="9.4" font-weight="bold" letter-spacing="-0.4" stroke-width="0.05">/</tspan><tspan class="mono" font-size="9.4" font-weight="bold" letter-spacing="-0.4" stroke-width="0.1" dy="-0.6">MPa</tspan></text>
<text class="t" x="293.20" y="427.30" font-size="12" fill="#2a2a2a" text-anchor="middle" stroke="#2a2a2a" stroke-width="0.1">(c)</text>
<rect x="293.20" y="359.60" width="108" height="24" rx="1.8" fill="#fff" stroke="#e2e2e2" stroke-width="0.9"/>
<path d="M295.70,365.80h17.3" stroke="#0e8c0e" stroke-width="1.6"/>
<text class="t" x="318.70" y="368.60" font-size="9" fill="#2a2a2a" stroke="#2a2a2a" stroke-width="0.2">2 MPa</text>
<path d="M354.90,365.80h17.3" stroke="#ff0808" stroke-width="1.6"/>
<text class="t" x="377.90" y="368.60" font-size="9" fill="#2a2a2a" stroke="#2a2a2a" stroke-width="0.2">6 MPa</text>
<path d="M295.70,376.70h17.3" stroke="#0505ff" stroke-width="1.6"/>
<text class="t" x="318.70" y="379.10" font-size="9" fill="#2a2a2a" stroke="#2a2a2a" stroke-width="0.2">4 MPa</text>
<path d="M354.90,376.70h17.3" stroke="#111" stroke-width="1.6"/>
<text class="t" x="377.90" y="379.10" font-size="9" fill="#2a2a2a" stroke="#2a2a2a" stroke-width="0.2">8 MPa</text>
</svg>
</body></html>
